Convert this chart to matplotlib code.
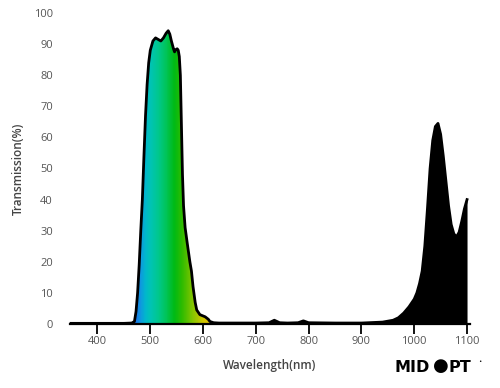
import numpy as np
import matplotlib
matplotlib.use("Agg")
import matplotlib.pyplot as plt
from matplotlib.colors import LinearSegmentedColormap

# ---- data ----
wavelength = [350, 400, 450, 465, 470, 473, 476, 479, 482, 485, 488, 491, 494, 497,
              500, 505, 510, 515, 520, 525, 530, 534, 537, 540, 544, 546, 548, 551,
              553, 555, 557, 559, 561, 563, 566, 570, 575, 578, 581, 585, 588, 594,
              604, 610, 613, 620, 630, 650, 700, 725, 735, 745, 760, 780, 790, 800,
              850, 900, 940, 960, 970, 980, 990, 1000, 1005, 1010, 1015, 1020, 1025,
              1030, 1035, 1040, 1045, 1050, 1055, 1060, 1065, 1070, 1075, 1080, 1085,
              1090, 1095, 1100]
transmission = [0.2, 0.2, 0.2, 0.3, 0.8, 4, 10, 19, 30, 40, 54, 67, 77, 84,
                88, 91, 92, 91.5, 91, 92, 93.5, 94.3, 93.2, 91, 88.5, 87.5, 88.2, 88.5,
                88, 86, 80, 64, 48, 38, 31, 26, 20, 17, 12, 7, 4.5, 3,
                2.3, 1.5, 0.8, 0.4, 0.3, 0.3, 0.3, 0.4, 1.2, 0.4, 0.3, 0.4, 1.0, 0.4,
                0.3, 0.3, 0.6, 1.2, 2, 3.5, 5.5, 8, 10, 13, 17, 25, 37,
                50, 59, 63.5, 64.5, 61, 54, 46, 38, 32, 29, 28, 29.5,
                33, 37, 40]
x_ticks = [400, 500, 600, 700, 800, 900, 1000, 1100]
y_ticks = [0, 10, 20, 30, 40, 50, 60, 70, 80, 90, 100]

# spectral colour stops (wavelength, colour)
spec_nm = [350, 462, 470, 480, 490, 500, 515, 530, 545, 560, 580, 600, 615, 625, 640, 1100]
spec_col = ["#000000", "#000000", "#1a6ee6", "#1096e0", "#00b8cc", "#00c4b4",
            "#00c88c", "#00c456", "#00ba14", "#30bc00", "#86c600", "#d2c800",
            "#e6bc00", "#b08800", "#000000", "#000000"]

fig = plt.figure(figsize=(5.0, 3.88), dpi=100)
xmin, xmax = 347, 1106
ymin, ymax = -2, 102
ax = fig.add_axes([0.139, 0.149, 0.8014, 0.8335])
ax.set_xlim(xmin, xmax)
ax.set_ylim(ymin, ymax)

# fill with spectral gradient
poly = ax.fill_between(wavelength, 0, transmission, color="black", lw=0, zorder=1)
pos = [(n - spec_nm[0]) / (spec_nm[-1] - spec_nm[0]) for n in spec_nm]
cmap = LinearSegmentedColormap.from_list("spec", list(zip(pos, spec_col)))
grad = np.linspace(0, 1, 1500).reshape(1, -1)
im = ax.imshow(grad, cmap=cmap, aspect="auto",
               extent=[spec_nm[0], spec_nm[-1], 0, 100], zorder=2,
               interpolation="bilinear")
path = poly.get_paths()[0]
im.set_clip_path(path, transform=ax.transData)

ax.plot(wavelength, transmission, color="black", lw=2.0, zorder=3,
        solid_joinstyle="round", clip_on=False)

# axes styling
for s in ["left", "right", "top"]:
    ax.spines[s].set_visible(False)
ax.spines["bottom"].set_position(("data", 0))
ax.spines["bottom"].set_linewidth(1.6)
ax.spines["bottom"].set_zorder(4)
ax.set_xticks(x_ticks)
ax.set_yticks(y_ticks)
ax.tick_params(axis="x", direction="out", length=7, width=1.3, color="black",
               labelcolor="#555555", labelsize=8, pad=2)
ax.tick_params(axis="y", length=0, labelcolor="#555555", labelsize=8, pad=12)
for lab in ax.get_xticklabels() + ax.get_yticklabels():
    lab.set_family("Open Sans")

ax.set_xlabel("Wavelength(nm)", family="Open Sans", fontsize=8.5,
              color="#444444", labelpad=8, fontweight="semibold")
ax.set_ylabel("Transmission(%)", family="Open Sans", fontsize=8.5,
              color="#444444", labelpad=6, fontweight="semibold")

# logo
fig.text(0.790, 0.054, "MID", fontsize=11.5, fontweight="bold",
         family="DejaVu Sans", color="black", ha="left", va="center")
fig.text(0.882, 0.056, "\u25CF", fontsize=13, family="DejaVu Sans",
         color="black", ha="center", va="center")
fig.text(0.898, 0.054, "PT", fontsize=11.5, fontweight="bold",
         family="DejaVu Sans", color="black", ha="left", va="center")
fig.text(0.956, 0.068, "\u2022", fontsize=4, family="DejaVu Sans",
         color="black", ha="left", va="center")

fig.savefig("out.png", dpi=100, facecolor="white")
